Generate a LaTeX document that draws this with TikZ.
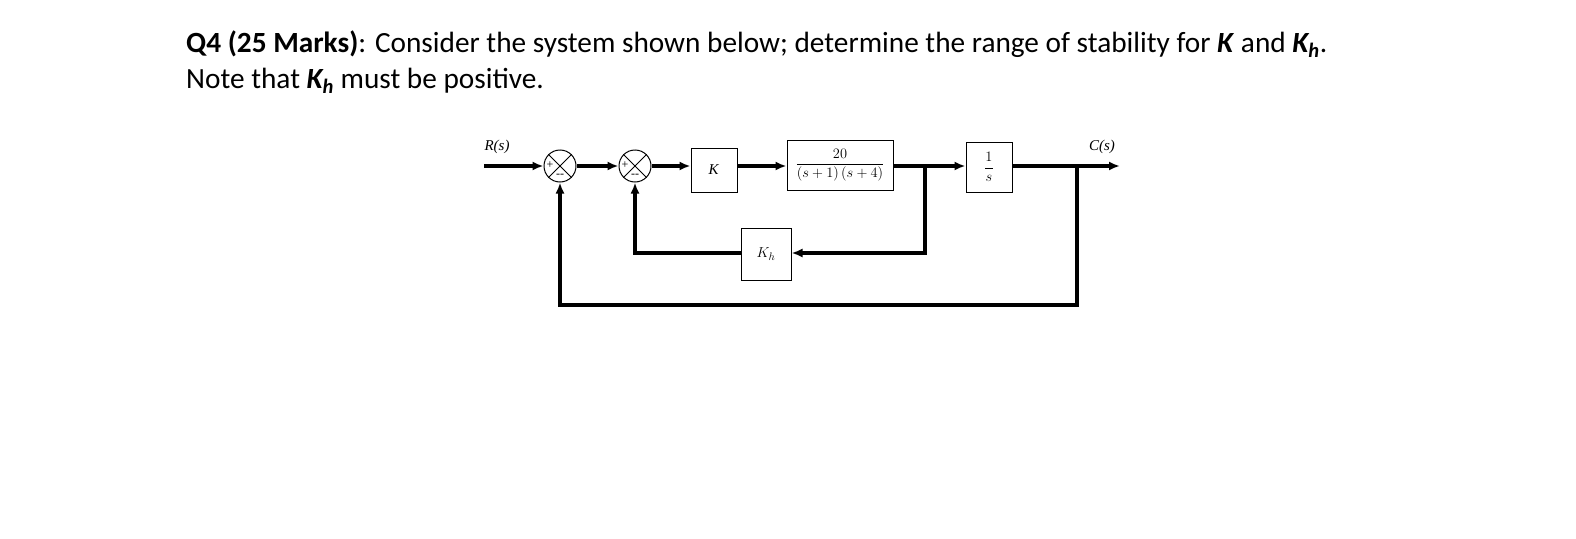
\documentclass[tikz,border=0pt]{standalone}
\usepackage{fontspec}
\setmainfont{Carlito}
\newfontfamily\tms{Liberation Serif}
\usetikzlibrary{arrows.meta}
\begin{document}
\begin{tikzpicture}[x=1pt,y=-1pt,
  sig/.style={line width=3.5pt,-{Latex[length=11pt,width=9pt]}},
  blk/.style={draw,line width=1pt,minimum width=46pt,minimum height=44pt,font=\tms\fontsize{15}{17}\selectfont,inner sep=1pt},
  sumj/.style={draw,circle,line width=1pt,minimum size=32pt,inner sep=0pt},
  lbl/.style={font=\tms\fontsize{15}{17}\selectfont\itshape}]
\useasboundingbox (0,0) rectangle (1576,538);
\node[anchor=base west,font=\fontsize{29.3}{34}\selectfont,inner sep=0] (t1) at (186,52) {\textbf{Q4 (25 Marks)}: Consider the system shown below; determine the range of stability for \textbf{\textit{K}} and \textbf{\textit{K\textsubscript{h}}}.};
\node[anchor=base west,font=\fontsize{29.3}{34}\selectfont,inner sep=0] (t2) at (186,88) {Note that \textbf{\textit{K\textsubscript{h}}} must be positive.};
% summing junctions
\foreach \n/\x in {s1/560,s2/635}{
  \node[sumj] (\n) at (\x,166) {};
  \draw[line width=1pt] (\n.north west)--(\n.south east) (\n.north east)--(\n.south west);
  \node[font=\tms\fontsize{12}{12}\selectfont,inner sep=0] at (\x-10,165) {+};
  \node[font=\tms\fontsize{12}{12}\selectfont,inner sep=0] at (\x,176) {--};
}
\node[blk] (k) at (714,170) {\textit{K}};
\node[blk,minimum width=106pt,minimum height=50pt] (g) at (840,165) {$\displaystyle\frac{20}{(s+1)\,(s+4)}$};
\node[blk,minimum height=50pt] (i) at (989,167) {$\displaystyle\frac{1}{s}$};
\node[blk,minimum width=50pt,minimum height=52pt] (kh) at (766,254) {$K_h$};
\coordinate (in) at (484,166);
\coordinate (out) at (1120,166);
\coordinate (b1) at (925,166);
\coordinate (b2) at (1077,166);
\node[lbl] (r) at (497,147) {R(s)};
\node[lbl] (c) at (1102,147) {C(s)};
\draw[sig] (in) -- (s1);
\draw[sig] (s1) -- (s2);
\draw[sig] (s2) -- (k.west|-s2);
\draw[sig] (k.east|-s2) -- (g.west|-s2);
\draw[sig] (g.east|-s2) -- (i.west|-s2);
\draw[sig] (i.east|-s2) -- (out);
\draw[sig] (b1) |- (kh.east|-0,253);
\draw[sig] (kh.west|-0,253) -| (s2.south);
\draw[sig] (b2) |- (560,305) -- (s1.south);
\end{tikzpicture}
\end{document}
